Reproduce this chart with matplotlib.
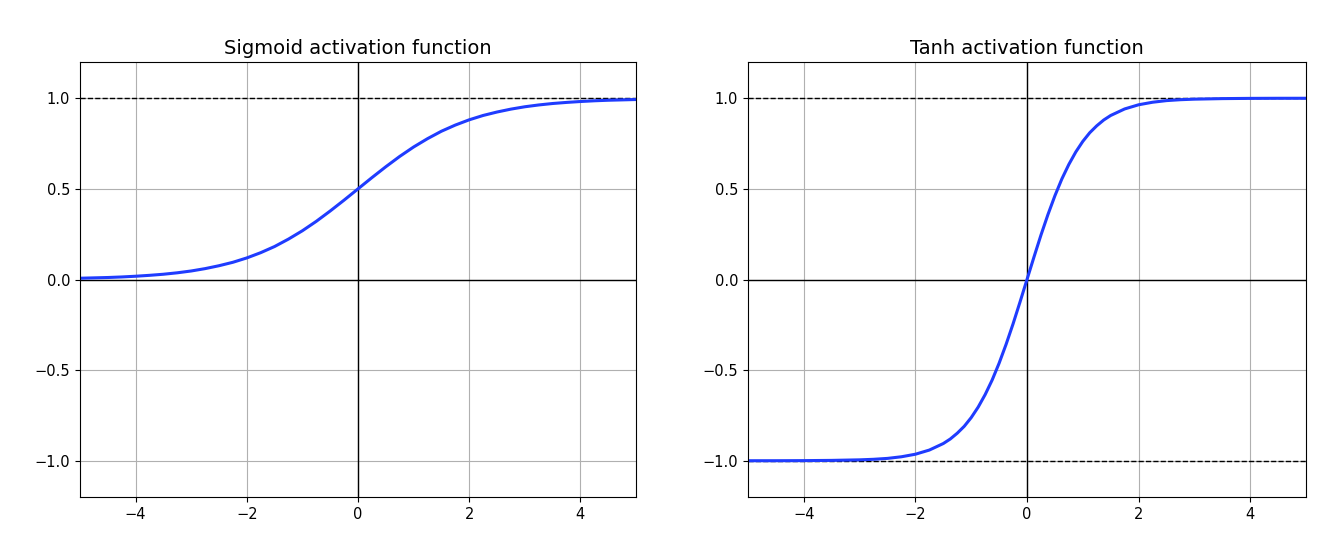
import matplotlib
matplotlib.use("Agg")
import matplotlib.pyplot as plt

x_vals = [-5.0,-4.75,-4.5,-4.25,-4.0,-3.75,-3.5,-3.25,-3.0,-2.75,-2.5,-2.25,-2.0,-1.75,-1.5,-1.25,-1.0,-0.75,-0.5,-0.25,
          0.0,0.25,0.5,0.75,1.0,1.25,1.5,1.75,2.0,2.25,2.5,2.75,3.0,3.25,3.5,3.75,4.0,4.25,4.5,4.75,5.0]
sigmoid_vals = [0.007,0.009,0.011,0.014,0.018,0.023,0.029,0.037,0.047,0.060,0.076,0.095,0.119,0.148,0.182,0.223,0.269,0.321,0.378,0.438,
                0.500,0.562,0.622,0.679,0.731,0.777,0.818,0.852,0.881,0.905,0.924,0.940,0.953,0.963,0.971,0.977,0.982,0.986,0.989,0.991,0.993]
tanh_x = [-5.0,-4.5,-4.0,-3.5,-3.0,-2.75,-2.5,-2.25,-2.0,-1.75,-1.5,-1.375,-1.25,-1.125,-1.0,-0.875,-0.75,-0.625,-0.5,-0.375,-0.25,-0.125,
          0.0,0.125,0.25,0.375,0.5,0.625,0.75,0.875,1.0,1.125,1.25,1.375,1.5,1.75,2.0,2.25,2.5,2.75,3.0,3.5,4.0,4.5,5.0]
tanh_vals = [-0.9999,-0.9998,-0.9993,-0.998,-0.995,-0.992,-0.987,-0.978,-0.964,-0.941,-0.905,-0.880,-0.848,-0.810,-0.762,-0.704,-0.635,-0.555,-0.462,-0.358,-0.245,-0.124,
             0.0,0.124,0.245,0.358,0.462,0.555,0.635,0.704,0.762,0.810,0.848,0.880,0.905,0.941,0.964,0.978,0.987,0.992,0.995,0.998,0.9993,0.9998,0.9999]
titles = ["Sigmoid activation function", "Tanh activation function"]

fig = plt.figure(figsize=(13.28, 5.46), dpi=100)
ax1 = fig.add_axes([80/1328, 1-497/546, 556/1328, 435/546])
ax2 = fig.add_axes([748/1328, 1-497/546, 558/1328, 435/546])

for ax, xs, y, t in [(ax1, x_vals, sigmoid_vals, titles[0]), (ax2, tanh_x, tanh_vals, titles[1])]:
    ax.plot([-5, 5], [0, 0], 'k-', lw=1)
    ax.plot([0, 0], [-1.2, 1.2], 'k-', lw=1)
    ax.plot([-5, 5], [1, 1], 'k--', lw=1)
    if ax is ax2:
        ax.plot([-5, 5], [-1, -1], 'k--', lw=1)
    ax.plot(xs, y, color='#1f3cff', lw=2.2)
    ax.set_xlim(-5, 5)
    ax.set_ylim(-1.2, 1.2)
    ax.set_xticks([-4, -2, 0, 2, 4])
    ax.set_yticks([-1.0, -0.5, 0.0, 0.5, 1.0])
    ax.grid(True, color='#b0b0b0', lw=0.8)
    ax.set_title(t, fontsize=14)
    ax.tick_params(labelsize=10.5)

fig.savefig("out.png", dpi=100)
